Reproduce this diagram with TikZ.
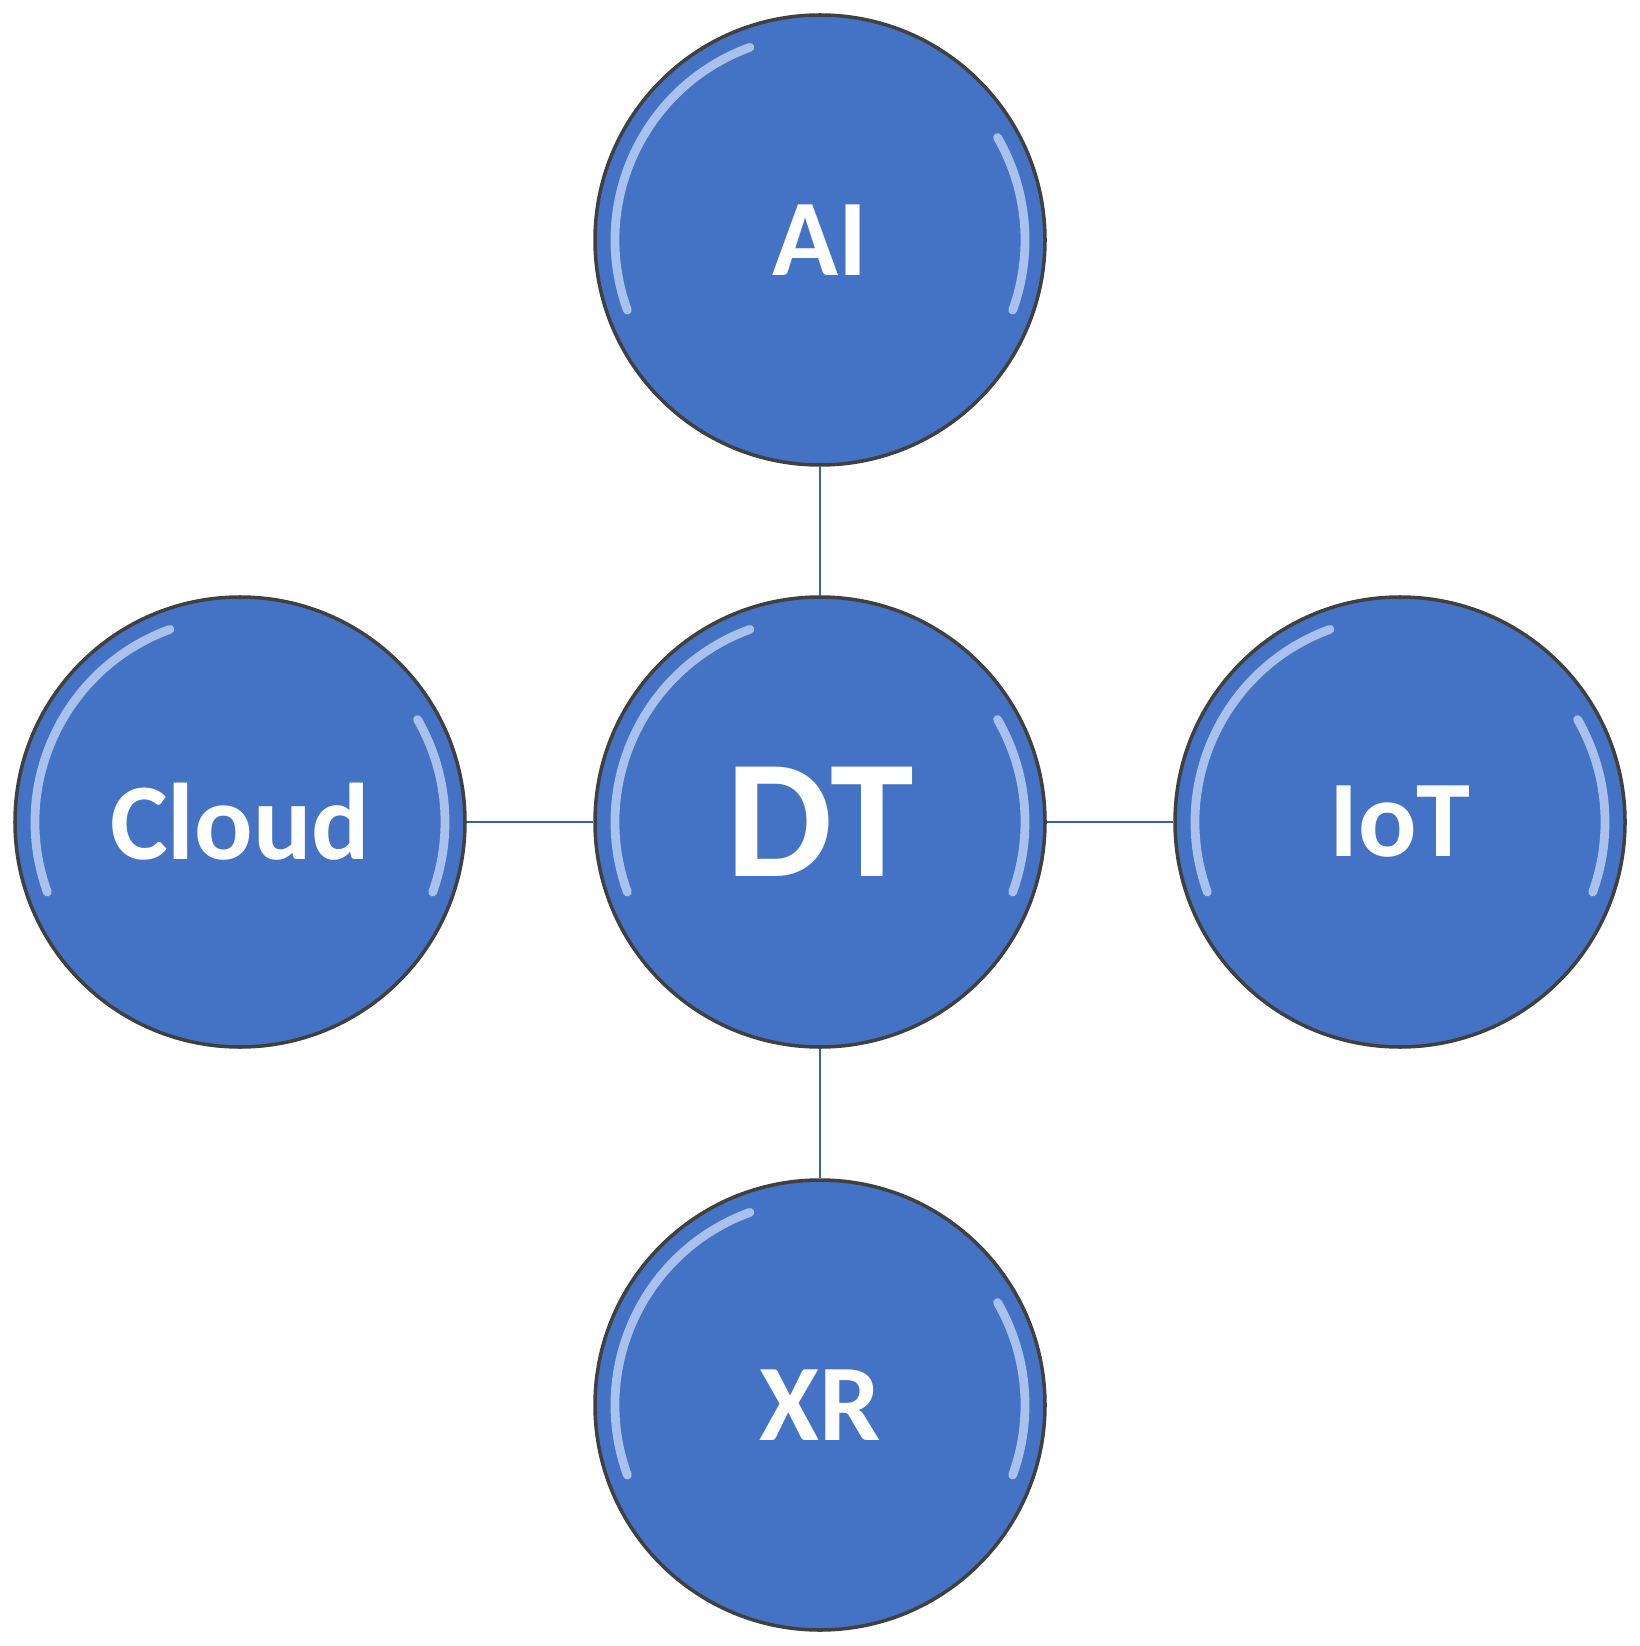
\documentclass[tikz,border=0pt]{standalone}
\usepackage{fontspec}
\setmainfont{Carlito}
\definecolor{cb}{HTML}{4472C4}
\definecolor{hl}{HTML}{A9C1EC}
\tikzset{
  ball/.style={circle, fill=cb, draw=black!75, line width=1pt, minimum size=4.5cm, inner sep=0pt, text=white, font=\bfseries\fontsize{31}{36}\selectfont},
  link/.style={draw=cb!85!black, line width=0.8pt}
}
\begin{document}
\begin{tikzpicture}
\useasboundingbox (0,0) rectangle (16.39,-16.46);
\node[ball] (ai) at (8.2,-2.4) {AI};
\node[ball, font=\bfseries\fontsize{48}{56}\selectfont] (dt) at (8.2,-8.22) {DT};
\node[ball] (cloud) at (2.4,-8.22) {Cloud};
\node[ball] (iot) at (14.0,-8.22) {IoT};
\node[ball] (xr) at (8.2,-14.05) {XR};
\foreach \n in {ai,dt,cloud,iot,xr}{
  \draw[hl, line width=2.5pt, line cap=round] ([shift={(0,0)}]\n.center) ++(110:2.05) arc (110:200:2.05);
  \draw[hl, line width=2.5pt, line cap=round] (\n.center) ++(-20:2.05) arc (-20:30:2.05);
}
\draw[link] (ai) -- (dt);
\draw[link] (dt) -- (xr);
\draw[link] (cloud) -- (dt);
\draw[link] (dt) -- (iot);
\end{tikzpicture}
\end{document}
